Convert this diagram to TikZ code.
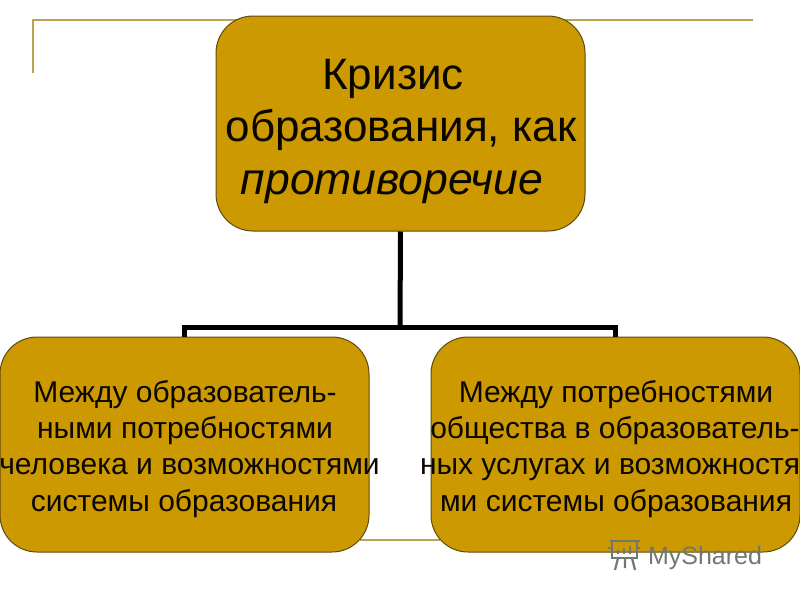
\documentclass[tikz,border=0pt]{standalone}
\usepackage{fontspec}
\setmainfont{Liberation Sans}
\tikzset{
  card/.style={draw=cardedge,fill=cardfill,line width=1pt,rounded corners=37pt,inner sep=0pt,minimum width=369pt,minimum height=215pt},
  bigline/.style={anchor=base,inner sep=0pt,text=inktext,font=\fontsize{44}{44}\selectfont},
  smallline/.style={anchor=base,inner sep=0pt,text=inktext,font=\fontsize{30}{30}\selectfont},
  link/.style={draw=black,line width=5pt,line cap=butt,line join=miter},
  rule/.style={draw=rulegold,line width=2pt},
}
\definecolor{cardfill}{HTML}{CC9900}
\definecolor{cardedge}{HTML}{5E4A10}
\definecolor{rulegold}{HTML}{B8A452}
\definecolor{inktext}{HTML}{0A0600}
\definecolor{markgray}{HTML}{6E7A70}
\begin{document}
\begin{tikzpicture}[x=1pt,y=-1pt]
\useasboundingbox (0,0) rectangle (800,600);
\fill[white] (0,0) rectangle (800,600);
% slide decoration
\draw[rule] (33,73) -- (33,20) -- (753,20);
\draw[rule] (360,540) -- (440,540);
% connectors
\node[card] (top) at (400.5,123.5) {};
\node[card] (left) at (184.5,444.5) {};
\node[card] (right) at (615.5,444.5) {};
\coordinate (hub) at (400,327);
\draw[link] (top.south) -- (hub);
\draw[link] (left.north) -- (left.north |- hub) -- (right.north |- hub) -- (right.north);
% top text
\node[bigline] (t1) at (393,89.5) {Кризис};
\node[bigline] (t2) at (401,141.5) {образования, как};
\node[bigline,font=\fontsize{44.5}{44.5}\selectfont\itshape] (t3) at (392,194) {противоречие};
% left text
\node[smallline] (l1) at (185,402.5) {Между образователь-};
\node[smallline] (l2) at (185,438.5) {ными потребностями};
\node[smallline] (l3) at (189.5,474.5) {человека и возможностями};
\node[smallline] (l4) at (184,511) {системы образования};
% right text
\node[smallline] (r1) at (616,402.5) {Между потребностями};
\node[smallline] (r2) at (615,438.5) {общества в образователь-};
\node[smallline] (r3) at (610,474.5) {ных услугах и возможностя};
\node[smallline] (r4) at (616,511) {ми системы образования};
% watermark
\begin{scope}[draw=markgray,line width=2.2pt]
\draw (610,541) -- (640,541) (612,541) -- (612,558) -- (637,558) -- (637,541);
\draw (608,548) -- (612,548) (637,548) -- (640,548);
\draw (618,558) -- (615,570) (632,558) -- (635,570) (625,558) -- (625,568);
\draw (618,554) -- (618,550) (624,554) -- (624,548) (630,554) -- (630,546);
\end{scope}
\node[anchor=base,inner sep=0pt,text=markgray,font=\fontsize{25}{25}\selectfont] (mark) at (705,564) {MyShared};
\end{tikzpicture}
\end{document}
